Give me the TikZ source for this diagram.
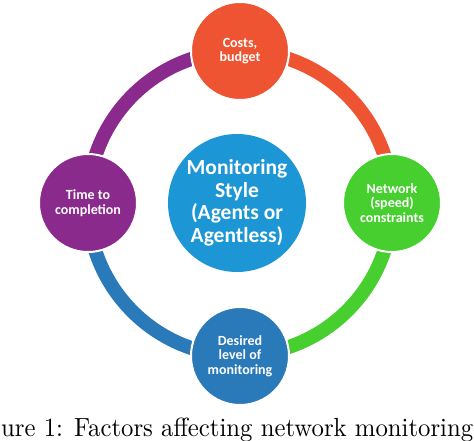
\documentclass[tikz,border=0pt]{standalone}
\usepackage{fontspec}
\newfontfamily\hpfont{Carlito}
\usetikzlibrary{backgrounds}
\definecolor{cOrange}{HTML}{EE5431}
\definecolor{cGreen}{HTML}{46CF2F}
\definecolor{cBlue}{HTML}{2A79B8}
\definecolor{cPurple}{HTML}{8A2A8C}
\definecolor{cCenter}{HTML}{1C96D5}
\tikzset{
  factor/.style={circle, minimum size=98pt, inner sep=0pt, draw=white, line width=2pt,
    text=white, align=center, font=\hpfont\bfseries\fontsize{14}{14.5}\selectfont},
  hub/.style={circle, minimum size=138pt, inner sep=0pt, fill=cCenter,
    text=white, align=center, font=\hpfont\bfseries\fontsize{21.5}{22.5}\selectfont},
  ring/.style={line width=14pt}
}
\begin{document}
\begin{tikzpicture}[x=1pt,y=-1pt]
\useasboundingbox (0,0) rectangle (474,440);
\node[hub] (hub) at (237,203) {Monitoring\\Style\\(Agents or\\Agentless)};
\node[factor, fill=cOrange] (cost) at (240,51) {Costs,\\budget};
\node[factor, fill=cGreen] (net) at (392,203) {Network\\(speed)\\constraints};
\node[factor, fill=cBlue] (des) at (240,356) {Desired\\level of\\monitoring};
\node[factor, fill=cPurple] (time) at (88,203) {Time to\\completion};
\begin{scope}[on background layer]
\fill[white] (0,0) rectangle (474,440);
\draw[ring, cOrange] (cost.center) arc[start angle=270, end angle=360, radius=152];
\draw[ring, cGreen] (net.center) arc[start angle=0, end angle=90, radius=152];
\draw[ring, cBlue] (des.center) arc[start angle=90, end angle=180, radius=152];
\draw[ring, cPurple] (time.center) arc[start angle=180, end angle=270, radius=152];
\end{scope}
\node[anchor=base west, inner sep=0pt] (cap) at (1,436) {\resizebox{472pt}{18.5pt}{ure 1: Factors affecting network monitoring}};
\end{tikzpicture}
\end{document}
